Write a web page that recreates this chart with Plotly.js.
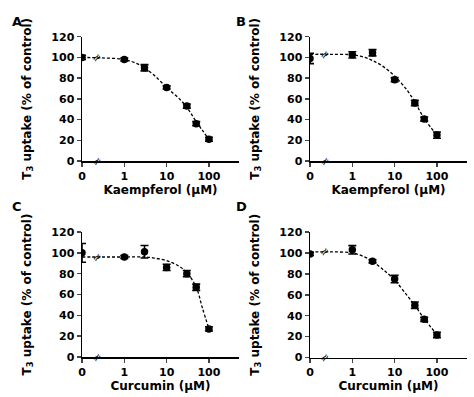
<!DOCTYPE html>
<html><head><meta charset="utf-8">
<script src="https://cdn.plot.ly/plotly-3.0.1.min.js"></script>
<style>html,body{margin:0;padding:0;background:#fff}#chart{width:474px;height:397px}</style>
</head><body><div id="chart"></div>
<script>
// Concentrations (µM); "0" is drawn at 0.1 on the log axis
const conc = [0.1, 1, 3, 10, 30, 50, 100];
const tickVals = [0.1, 1, 10, 100];
const tickText = ['0', '1', '10', '100'];
const panelLetters = ['A', 'B', 'C', 'D'];
const xTitles = ['Kaempferol (μM)', 'Kaempferol (μM)', 'Curcumin (μM)', 'Curcumin (μM)'];

// Measured means and SEM
const meanA = [100, 98, 90, 71, 53, 36, 21];
const errA  = [2, 1.5, 3, 1.5, 2, 2, 2];
const meanB = [99, 102.5, 104.5, 78.5, 56, 40.5, 25];
const errB  = [5, 3, 3, 2, 2.5, 2, 3];
const meanC = [100, 96, 101, 86, 80, 67, 27];
const errC  = [9, 1.5, 6, 3, 3, 3, 2];
const meanD = [99, 103, 92, 75, 50, 36.5, 21.5];
const errD  = [1.5, 4, 1.5, 3.5, 3, 2, 2.5];

// Fitted dashed curves
const fitXA = [0.1, 0.3, 1, 2, 3, 5, 10, 20, 30, 50, 100];
const fitYA = [100, 99.5, 98, 94, 90, 83, 71, 60, 52, 38, 21];
const fitXB = [0.1, 0.3, 1, 2, 3, 5, 10, 20, 30, 50, 100];
const fitYB = [103, 103, 102.5, 100, 97, 92, 82, 68, 57, 41, 25];
const fitXC = [0.1, 0.3, 1, 3, 5, 10, 20, 30, 50, 70, 100];
const fitYC = [96, 96, 96, 96, 95, 92.5, 87, 81, 67, 47, 27];
const fitXD = [0.1, 0.3, 1, 2, 3, 5, 10, 20, 30, 50, 100];
const fitYD = [101, 101, 100, 96, 92, 85, 74, 59, 50, 37, 22];

const means = [meanA, meanB, meanC, meanD];
const errs = [errA, errB, errC, errD];
const fitX = [fitXA, fitXB, fitXC, fitXD];
const fitY = [fitYA, fitYB, fitYC, fitYD];

const W = 474, H = 397;
// pixel boxes [left, right, top, bottom]
const boxes = [[82, 239, 36.7, 161], [310, 467, 36.7, 161], [82, 239, 232, 357], [310, 467, 232, 357.5]];
const letterPos = [[10, 12], [241, 12], [10, 206], [241, 206]];
const breakX = 0.226;

const font = {family: 'DejaVu Sans, Verdana, sans-serif', color: '#000'};
const traces = [];
const layout = {
  width: W, height: H, margin: {l: 0, r: 0, t: 0, b: 0},
  paper_bgcolor: '#fff', plot_bgcolor: 'rgba(0,0,0,0)', showlegend: false,
  annotations: [], font: font
};

for (let i = 0; i < 4; i++) {
  const n = i === 0 ? '' : String(i + 1);
  const xa = 'x' + n, ya = 'y' + n;
  traces.push({
    x: fitX[i], y: fitY[i], xaxis: xa, yaxis: ya, mode: 'lines',
    line: {color: '#000', width: 1.3, dash: '3px,2px', shape: 'spline'}, hoverinfo: 'skip'
  });
  traces.push({
    x: conc, y: means[i], xaxis: xa, yaxis: ya, mode: 'markers',
    marker: {color: '#000', size: 7.5, symbol: 'circle'},
    error_y: {type: 'data', array: errs[i], visible: true, color: '#000', thickness: 1.6, width: 4}
  });
  const b = boxes[i];
  layout['xaxis' + n] = {
    domain: [b[0] / W, b[1] / W], anchor: ya, type: 'log', range: [-1, 2.71],
    tickvals: tickVals, ticktext: tickText, ticks: 'outside', ticklen: 4, tickwidth: 1.5,
    showline: true, linecolor: '#000', linewidth: 1.5, showgrid: false, zeroline: false,
    tickfont: {family: font.family, size: 11, color: '#000', weight: 'bold'},
    title: {text: '<b>' + xTitles[i] + '</b>', standoff: 3, font: {family: font.family, size: 12, color: '#000'}}
  };
  layout['yaxis' + n] = {
    domain: [(H - b[3]) / H, (H - b[2]) / H], anchor: xa, range: [0, 120],
    tickvals: [0, 20, 40, 60, 80, 100, 120], ticks: 'outside', ticklen: 4, tickwidth: 1.5,
    showline: true, linecolor: '#000', linewidth: 1.5, showgrid: false, zeroline: false,
    tickfont: {family: font.family, size: 11, color: '#000', weight: 'bold'},
    title: {text: '<b>T<sub>3</sub> uptake (% of control)</b>', standoff: 17, font: {family: font.family, size: 12, color: '#000'}}
  };
  // break marks on the dashed curve and on the x axis
  [fitY[i][0], 0].forEach(yv => {
    layout.annotations.push({
      x: Math.log10(breakX), y: yv, xref: xa, yref: ya, text: '≈', showarrow: false,
      textangle: -45, font: {family: font.family, size: 11, color: '#000'}
    });
  });
  layout.annotations.push({
    x: letterPos[i][0] / W, y: 1 - letterPos[i][1] / H, xref: 'paper', yref: 'paper',
    text: '<b>' + panelLetters[i] + '</b>', showarrow: false,
    font: {family: font.family, size: 13, color: '#000'}
  });
}

Plotly.newPlot('chart', traces, layout, {displayModeBar: false, staticPlot: true});
</script></body></html>
